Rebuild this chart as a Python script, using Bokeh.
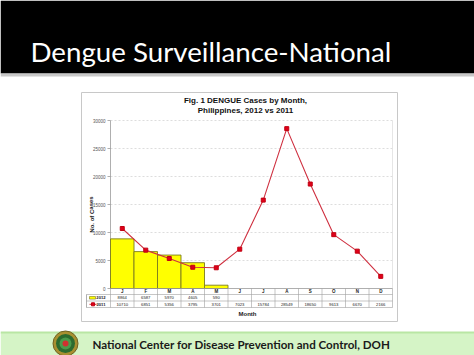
from bokeh.plotting import figure
from bokeh.models import Range1d, ColumnDataSource
from bokeh.core.properties import value
from bokeh.embed import file_html
from bokeh.resources import INLINE

# ---------------- data ----------------
months = ["J", "F", "M", "A", "M", "J", "J", "A", "S", "O", "N", "D"]
cases_2012 = [8864, 6587, 5970, 4605, 590]
cases_2011 = [10710, 6851, 5356, 3795, 3701, 7023, 15784, 28549, 18650, 9613, 6670, 2166]
y_ticks = [0, 5000, 10000, 15000, 20000, 25000, 30000]
y_max = 30000

# ---------------- layout constants (page pixels) ----------------
W, H = 474, 355
PL, PR, PT, PB = 110, 392, 120, 288   # plot area

p = figure(width=W, height=H, x_range=Range1d(0, W), y_range=Range1d(H, 0),
           min_border=0, output_backend="svg", toolbar_location=None)
p.axis.visible = False
p.grid.visible = False
p.outline_line_color = None
p.background_fill_color = "white"
p.border_fill_color = "white"

# data ranges mapped onto the plot area
unit_x = (PR - PL) / len(months)
p.extra_x_ranges = {"m": Range1d(-PL / unit_x, (W - PL) / unit_x)}
unit_y = y_max / (PB - PT)
p.extra_y_ranges = {"v": Range1d(-(H - PB) * unit_y, PB * unit_y)}

# ---------------- slide banner ----------------
p.quad(left=0, right=W, top=0, bottom=73, fill_color="black", line_color=None)
p.quad(left=0, right=W, top=73, bottom=76, fill_color="#c8c8c8", line_color=None)
p.text(x=[30], y=[51], text=["Dengue Surveillance-National"], text_color="white",
       text_font=value("Lato"), text_font_size="27.7px", text_baseline="alphabetic")

# ---------------- chart box ----------------
p.quad(left=81, right=397, top=92, bottom=321, fill_color="white",
       line_color="#c8c8c8", line_width=1)
p.text(x=[(PL + PR) / 2 - 6], y=[100], text=["Fig. 1 DENGUE Cases by Month,"],
       text_font=value("Liberation Sans"), text_font_style="bold", text_font_size="8px",
       text_align="center", text_baseline="middle", text_color="#111111")
p.text(x=[(PL + PR) / 2 - 6], y=[110], text=["Philippines, 2012 vs 2011"],
       text_font=value("Liberation Sans"), text_font_style="bold", text_font_size="8px",
       text_align="center", text_baseline="middle", text_color="#111111")

# grid lines
p.segment(x0=[0] * len(y_ticks[1:]), x1=[len(months)] * len(y_ticks[1:]),
          y0=y_ticks[1:], y1=y_ticks[1:], x_range_name="m", y_range_name="v",
          line_color="#d4d4d4", line_width=0.8, line_dash="2 2")
# right border of plot area
p.segment(x0=[len(months)], x1=[len(months)], y0=[0], y1=[y_max],
          x_range_name="m", y_range_name="v", line_color="#e0e0e0", line_width=0.8)

# y axis
p.segment(x0=[PL], x1=[PL], y0=[0], y1=[y_max], y_range_name="v",
          line_color="#9a9a9a", line_width=0.8)
p.segment(x0=[PL - 3] * len(y_ticks), x1=[PL] * len(y_ticks), y0=y_ticks, y1=y_ticks,
          y_range_name="v", line_color="#9a9a9a", line_width=0.8)
p.text(x=[PL - 5] * len(y_ticks), y=y_ticks, text=[str(t) for t in y_ticks],
       y_range_name="v", text_font=value("Liberation Sans"), text_font_size="4.5px",
       text_align="right", text_baseline="middle", text_color="#555555")
p.text(x=[91], y=[(PT + PB) / 2 + 10], text=["No. of Cases"], angle=1.5708,
       text_font=value("Liberation Sans"), text_font_style="bold", text_font_size="6px",
       text_align="center", text_baseline="middle", text_color="#222222")

# bars 2012
idx12 = list(range(len(cases_2012)))
p.quad(left=idx12, right=[i + 1 for i in idx12], bottom=0, top=cases_2012,
       x_range_name="m", y_range_name="v", fill_color="#ffff00", line_color="#7a7a20",
       line_width=0.9)

# line 2011
idx11 = [i + 0.5 for i in range(len(cases_2011))]
src11 = ColumnDataSource(dict(x=idx11, y=cases_2011))
p.line("x", "y", source=src11, x_range_name="m", y_range_name="v",
       line_color="#cf3040", line_width=1.1)
p.scatter("x", "y", source=src11, x_range_name="m", y_range_name="v", marker="square",
          size=4, fill_color="#e0001a", line_color="#c00010")

# x axis line
p.segment(x0=[0], x1=[len(months)], y0=[0], y1=[0], x_range_name="m", y_range_name="v",
          line_color="#9a9a9a", line_width=0.8)

# ---------------- data table ----------------
TL = 86
row_lines = [294, 300.5, 307]
p.segment(x0=list(range(len(months) + 1)), x1=list(range(len(months) + 1)),
          y0=[PB] * (len(months) + 1), y1=[307] * (len(months) + 1), x_range_name="m",
          line_color="#a0a0a0", line_width=0.6)
p.segment(x0=[TL, TL], x1=[TL, TL], y0=[294, 294], y1=[307, 307],
          line_color="#a0a0a0", line_width=0.6)
p.segment(x0=[TL] * 3, x1=[PR] * 3, y0=row_lines, y1=row_lines,
          line_color="#a0a0a0", line_width=0.6)
mx = [i + 0.5 for i in range(len(months))]
p.text(x=mx, y=[291] * len(months), text=months, x_range_name="m",
       text_font=value("Liberation Sans"), text_font_style="bold", text_font_size="4.5px",
       text_align="center", text_baseline="middle", text_color="#222222")
p.text(x=mx[:len(cases_2012)], y=[297.3] * len(cases_2012), text=[str(v) for v in cases_2012],
       x_range_name="m", text_font=value("Liberation Sans"), text_font_size="4.2px",
       text_align="center", text_baseline="middle", text_color="#222222")
p.text(x=mx, y=[303.8] * len(cases_2011), text=[str(v) for v in cases_2011],
       x_range_name="m", text_font=value("Liberation Sans"), text_font_size="4.2px",
       text_align="center", text_baseline="middle", text_color="#222222")
# legend keys
p.quad(left=89, right=95, top=296, bottom=298.6, fill_color="#ffff00", line_color="#7a7a20",
       line_width=0.6)
p.segment(x0=[89], x1=[96], y0=[303.8], y1=[303.8], line_color="#cc2a2a", line_width=1)
p.scatter(x=[92.5], y=[303.8], marker="square", size=3, fill_color="#e0001a",
          line_color="#c00010")
p.text(x=[100.5, 100.5], y=[297.3, 303.8], text=["2012", "2011"],
       text_font=value("Liberation Sans"), text_font_style="bold", text_font_size="4.2px",
       text_align="center", text_baseline="middle", text_color="#222222")
p.text(x=[(PL + PR) / 2 - 4], y=[313.5], text=["Month"],
       text_font=value("Liberation Sans"), text_font_style="bold", text_font_size="6px",
       text_align="center", text_baseline="middle", text_color="#222222")

# ---------------- footer ----------------
p.quad(left=0, right=W, top=332, bottom=H, fill_color="#d5f4c6", line_color=None)
p.quad(left=0, right=W, top=331, bottom=333, fill_color="#b9e6a4", line_color=None)
p.scatter(x=[65], y=[343], marker="circle", size=25, fill_color="#a89030", line_color="#6f6020")
p.scatter(x=[65], y=[343], marker="circle", size=19, fill_color="#2c6b2e", line_color=None)
p.scatter(x=[65], y=[343], marker="circle", size=12, fill_color="#4a9a4a", line_color=None)
p.scatter(x=[65], y=[343], marker="circle", size=6, fill_color="#d03030", line_color=None)
p.text(x=[92], y=[344], text=["National Center for Disease Prevention and Control, DOH"],
       text_font=value("Lato"), text_font_style="bold", text_font_size="11.6px",
       text_align="left", text_baseline="middle", text_color="#1a1a1a")

open("out.html", "w").write(file_html(p, INLINE))
